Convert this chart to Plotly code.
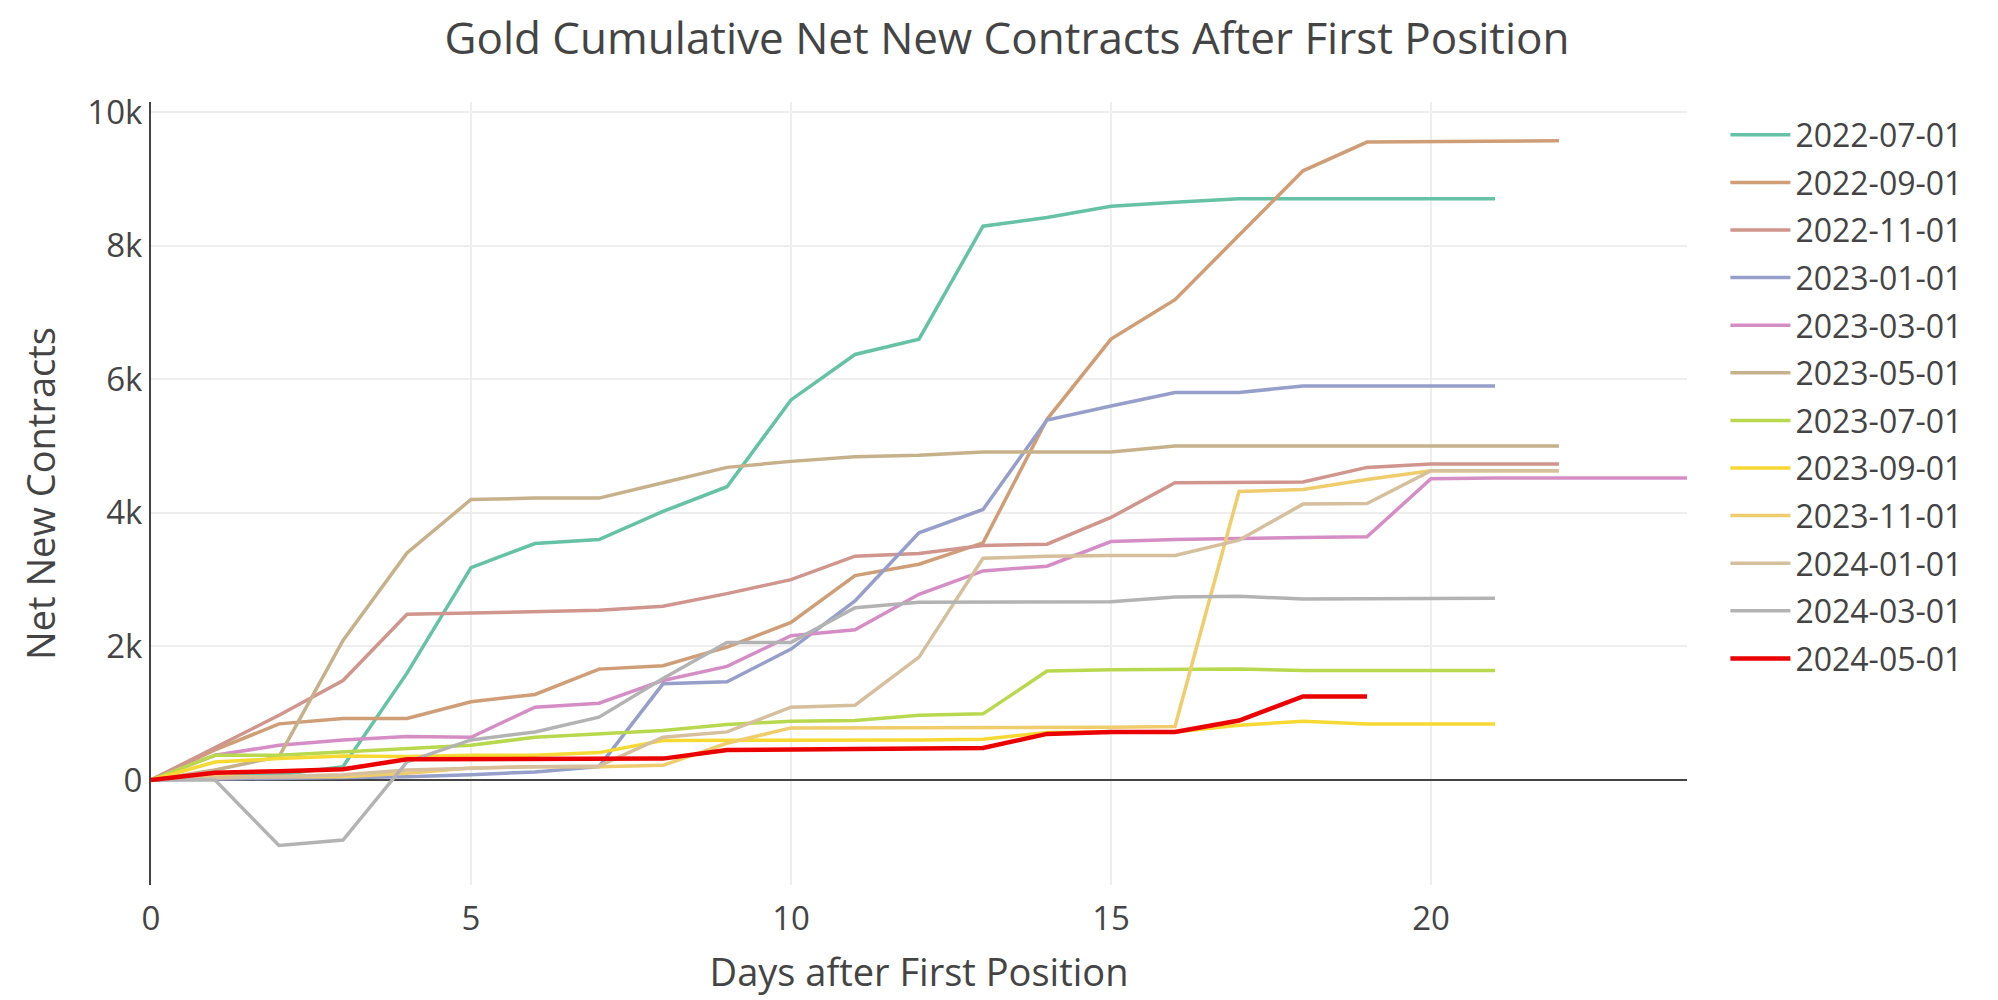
import numpy as np
import plotly.graph_objects as go
import plotly.colors as pc

series_names = ["2022-07-01", "2022-09-01", "2022-11-01", "2023-01-01", "2023-03-01",
                "2023-05-01", "2023-07-01", "2023-09-01", "2023-11-01", "2024-01-01",
                "2024-03-01", "2024-05-01"]

s_2022_07 = [0, 50, 80, 200, 1600, 3180, 3540, 3600, 4020, 4390, 5690, 6370, 6600, 8290, 8420,
             8590, 8650, 8700, 8700, 8700, 8700, 8700]
s_2022_09 = [0, 450, 840, 920, 920, 1170, 1280, 1660, 1710, 1990, 2360, 3060, 3230, 3550, 5400,
             6600, 7190, 8150, 9120, 9550, 9560, 9570, 9570]
s_2022_11 = [0, 480, 970, 1490, 2480, 2500, 2520, 2540, 2600, 2790, 3000, 3350, 3390, 3510, 3530,
             3930, 4450, 4460, 4460, 4680, 4730, 4730, 4730]
s_2023_01 = [0, 10, 20, 30, 50, 80, 120, 200, 1440, 1470, 1960, 2680, 3700, 4050, 5390, 5600,
             5800, 5800, 5900, 5900, 5900, 5900]
s_2023_03 = [0, 370, 520, 600, 650, 640, 1090, 1150, 1490, 1700, 2160, 2250, 2780, 3130, 3200,
             3570, 3600, 3620, 3630, 3640, 4510, 4520, 4520, 4520, 4520]
s_2023_05 = [0, 150, 350, 2090, 3400, 4200, 4220, 4220, 4450, 4680, 4770, 4840, 4860, 4910, 4910,
             4910, 5000, 5000, 5000, 5000, 5000, 5000, 5000]
s_2023_07 = [0, 370, 370, 420, 470, 520, 640, 690, 740, 830, 880, 890, 970, 990, 1630, 1650, 1650,
             1660, 1640, 1640, 1640, 1640]
s_2023_09 = [0, 270, 320, 360, 350, 370, 370, 410, 590, 590, 590, 600, 600, 610, 710, 720, 720,
             820, 880, 840, 840, 840]
s_2023_11 = [0, 50, 50, 50, 100, 180, 200, 200, 220, 550, 780, 780, 780, 780, 780, 790, 800, 4320,
             4350, 4500, 4630, 4630, 4630]
s_2024_01 = [0, 30, 50, 80, 150, 180, 200, 210, 640, 720, 1090, 1120, 1840, 3320, 3350, 3360, 3360,
             3590, 4130, 4140, 4630, 4630, 4630]
s_2024_03 = [0, 0, -980, -900, 270, 600, 720, 940, 1520, 2060, 2060, 2580, 2660, 2660, 2670, 2670,
             2740, 2750, 2710, 2710, 2720, 2720]
s_2024_05 = [0, 110, 130, 160, 310, 310, 320, 320, 320, 450, 460, 470, 480, 480, 690, 720, 720, 890,
             1250, 1250]

all_series = [s_2022_07, s_2022_09, s_2022_11, s_2023_01, s_2023_03, s_2023_05,
              s_2023_07, s_2023_09, s_2023_11, s_2024_01, s_2024_03, s_2024_05]

y_tick_vals = [0, 2000, 4000, 6000, 8000, 10000]
x_tick_vals = [0, 5, 10, 15, 20]

scale = pc.make_colorscale(pc.qualitative.Set2)
palette = pc.sample_colorscale(scale, list(np.linspace(0, 1, 11)))
colors = palette + ["rgb(235,0,0)"]

fig = go.Figure()
for name, vals, col in zip(series_names, all_series, colors):
    is_last = name == series_names[-1]
    fig.add_trace(go.Scatter(
        x=list(range(len(vals))), y=vals, mode="lines", name=name, legendgroup=name,
        line=dict(color=col, width=4.5 if is_last else 3.5),
    ))

fig.update_layout(
    width=1998, height=1000,
    paper_bgcolor="white", plot_bgcolor="white",
    font=dict(family="Open Sans", color="#444", size=33),
    title=dict(text="Gold Cumulative Net New Contracts After First Position",
               x=0.5, xanchor="center", y=0.969, yanchor="middle",
               font=dict(size=44, color="#444")),
    margin=dict(l=143, r=319, t=94, b=123),
    legend=dict(font=dict(size=32), x=1.025, xanchor="left", y=0.993, yanchor="top",
                bgcolor="rgba(0,0,0,0)", tracegroupgap=3, itemwidth=60),
    showlegend=True,
)
fig.update_xaxes(
    range=[0, 24], tickvals=x_tick_vals, showgrid=True, gridcolor="#eeeeee", gridwidth=2,
    zeroline=False, showline=False, ticks="", ticklabelstandoff=11,
    title=dict(text="Days after First Position", font=dict(size=38), standoff=20),
    tickfont=dict(size=33),
)
fig.update_yaxes(
    range=[-1572, 10150], tickvals=y_tick_vals, tickformat="~s",
    showgrid=True, gridcolor="#eeeeee", gridwidth=2,
    zeroline=True, zerolinecolor="#444", zerolinewidth=2,
    showline=True, linecolor="#444", linewidth=2, ticks="",
    title=dict(text="Net New Contracts", font=dict(size=38), standoff=20),
    tickfont=dict(size=33),
)

fig.write_html("out.html")
